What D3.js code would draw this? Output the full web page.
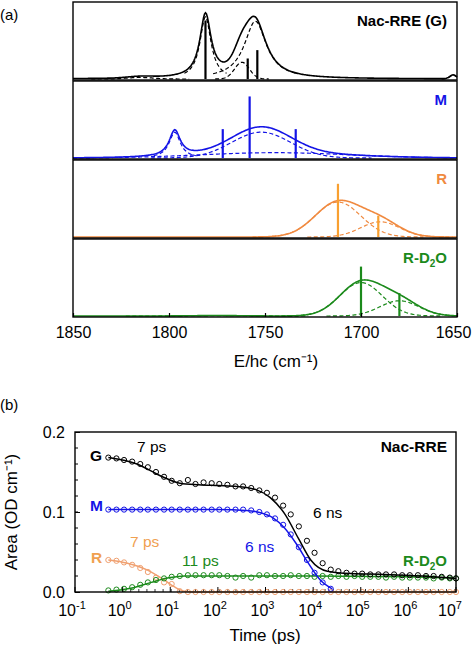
<!DOCTYPE html>
<html><head><meta charset="utf-8">
<script src="https://cdn.jsdelivr.net/npm/d3@7"></script>
<style>body{margin:0;background:#fff}text{font-family:"Liberation Sans",Arial,sans-serif}</style>
</head><body><div id="chart"></div>
<script>
// Band components per panel: [centre, fwhm, amplitude, shape]
var bandsG = [[1781, 7, 0.82, 'L'], [1762, 9, 0.22, 'G'], [1755, 14, 0.76, 'L'], [1815, 16, 0.02, 'G'], [1652, 4, 0.05, 'G']];
var bandsM = [[1797, 7, 0.34, 'L'], [1752, 36, 0.34, 'G'], [1745, 90, 0.07, 'G']];
var bandsR = [[1712, 28, 0.46, 'G'], [1690, 24, 0.20, 'G']];
var bandsD = [[1700, 26, 0.44, 'G'], [1680, 24, 0.20, 'G'], [1775, 30, 0.006, 'G']];
// Sticks: [position, height]
var sticksG = [[1781, 0.77], [1759, 0.27], [1754, 0.38]];
var sticksM = [[1772, 0.38], [1758, 0.81], [1734, 0.38]];
var sticksR = [[1712, 0.70], [1691, 0.28]];
var sticksD = [[1700, 0.65], [1680, 0.30]];
var wnTicks = [1850, 1800, 1750, 1700, 1650];

// Kinetics (log10 of time in ps)
var logT = [-0.3, -0.13, 0.03, 0.2, 0.37, 0.53, 0.7, 0.87, 1.03, 1.2, 1.37, 1.53, 1.7, 1.87, 2.03,
  2.2, 2.37, 2.53, 2.7, 2.87, 3.03, 3.2, 3.37, 3.53, 3.7, 3.87, 4.03, 4.2, 4.37, 4.53, 4.7, 4.87,
  5.03, 5.2, 5.37, 5.53, 5.7, 5.87, 6.03, 6.2, 6.37, 6.53, 6.7, 6.87, 7.0];
var areaG = [.168, .167, .165, .163, .160, .156, .150, .144, .139, .136, .140, .135, .137, .136, .135,
  .134, .132, .132, .130, .127, .124, .118, .108, .097, .082, .064, .049, .036, .028, .026, .024, .023,
  .023, .022, .022, .022, .022, .021, .021, .021, .020, .020, .019, .018, .017];
var areaM = [.103, .103, .103, .103, .103, .103, .103, .103, .103, .103, .103, .103, .103, .103, .103,
  .103, .103, .103, .102, .100, .097, .092, .084, .072, .056, .040, .024, .012, .004];
var areaR = [.040, .039, .037, .034, .030, .025, .018, .012, .010, .001, 0, 0, 0, 0, 0, 0, 0, 0, 0, 0,
  0, 0, 0, 0, 0, 0, 0, 0, 0, 0, 0, 0, 0, 0, 0, 0, 0, 0, 0, 0, 0, 0, 0, 0, 0];
var areaD = [.002, .003, .004, .006, .009, .012, .015, .017, .019, .020, .021, .021, .021, .021, .021,
  .020, .018, .020, .018, .021, .021, .020, .020, .021, .020, .020, .019, .020, .019, .020, .019, .020,
  .019, .019, .019, .018, .019, .018, .018, .018, .018, .017, .018, .017, .017];
var fitG = [.168, .160, .145, .136, .134, .133, .132, .128, .118, .098, .066, .040, .026, .023, .022, .020, .017];
var fitLogG = [-0.3, 0.3, 0.8, 1.2, 1.6, 2.0, 2.4, 2.8, 3.1, 3.4, 3.7, 3.95, 4.3, 4.8, 5.5, 6.3, 7.0];
var fitM = [.103, .103, .103, .102, .099, .093, .080, .060, .036, .015, .004];
var fitLogM = [-0.3, 1.0, 2.0, 2.6, 2.9, 3.15, 3.4, 3.65, 3.9, 4.15, 4.4];
var fitR = [.040, .036, .028, .016, .006, .001, 0, 0];
var fitLogR = [-0.3, 0.1, 0.5, 0.85, 1.1, 1.3, 1.5, 7.0];
var fitD = [.001, .005, .012, .018, .020, .020, .020, .019, .017];
var fitLogD = [-0.3, 0.2, 0.6, 1.0, 1.3, 2.0, 4.0, 6.0, 7.0];
var areaTicks = [0, 0.1, 0.2];

var W = 474, H = 645;
var FONT = '"Liberation Sans",Arial,sans-serif';
var FS = 16;
var svg = d3.select('#chart').append('svg').attr('width', W).attr('height', H);

// ---------- (a) spectra ----------
var x = d3.scaleLinear().domain([1850, 1650]).range([73, 457]);
var panels = [
  {bands: bandsG, sticks: sticksG, color: '#000', stick: '#000', top: 2, label: 'Nac-RRE (G)'},
  {bands: bandsM, sticks: sticksM, color: '#1414e6', stick: '#1414e6', top: 81, label: 'M'},
  {bands: bandsR, sticks: sticksR, color: '#f08a40', stick: '#f9a030', top: 160, label: 'R'},
  {bands: bandsD, sticks: sticksD, color: '#1b8a1b', stick: '#1b8a1b', top: 239, label: 'R-D2O'}
];
var ph = 78;
function band(b, w) {
  var d = (w - b[0]) / (b[1] / 2);
  return b[3] === 'L' ? b[2] / (1 + d * d) : b[2] * Math.exp(-Math.LN2 * d * d);
}
var grid = d3.range(1850, 1649.5, -0.5);
panels.forEach(function(p) {
  var y = d3.scaleLinear().domain([0, 1]).range([p.top + ph - 1, p.top + 1]);
  var line = d3.line().x(function(d) { return x(d[0]); }).y(function(d) { return y(d[1]); });
  var g = svg.append('g');
  // dashed components, only where the band is visible
  p.bands.forEach(function(b) {
    var pts = grid.filter(function(w) { return Math.abs(w - b[0]) < b[1] * 1.6; })
      .map(function(w) { return [w, band(b, w)]; });
    g.append('path').datum(pts)
      .attr('d', line).attr('fill', 'none').attr('stroke', p.color)
      .attr('stroke-width', 1.2).attr('stroke-dasharray', '4,2.5');
  });
  g.append('path').datum(grid.map(function(w) {
    return [w, d3.sum(p.bands, function(b) { return band(b, w); })];
  })).attr('d', line).attr('fill', 'none').attr('stroke', p.color).attr('stroke-width', 1.6);
  g.selectAll('.stick').data(p.sticks).enter().append('line')
    .attr('x1', function(d) { return x(d[0]); }).attr('x2', function(d) { return x(d[0]); })
    .attr('y1', y(0)).attr('y2', function(d) { return y(d[1]); })
    .attr('stroke', p.stick).attr('stroke-width', 2.2);
  g.append('rect').attr('x', 73).attr('y', p.top).attr('width', 384).attr('height', ph)
    .attr('fill', 'none').attr('stroke', '#000').attr('stroke-width', 1.4);
  var t = g.append('text').attr('x', 447).attr('y', p.top + 24).attr('text-anchor', 'end')
    .attr('font-weight', 'bold').attr('font-size', 15).attr('fill', p.color);
  if (p.label === 'R-D2O') {
    t.text('R-D');
    t.append('tspan').attr('font-size', 10).attr('dy', 4).text('2');
    t.append('tspan').attr('dy', -4).text('O');
  } else t.text(p.label);
});
var xAxis = svg.append('g').attr('transform', 'translate(0,317)')
  .call(d3.axisBottom(x).tickValues(wnTicks).tickSize(-4).tickPadding(10).tickFormat(d3.format('d')));
xAxis.select('.domain').remove();
xAxis.selectAll('line').attr('stroke-width', 1.2);
xAxis.selectAll('text').attr('font-size', FS).attr('fill', '#000').style('font-family', FONT)
  .attr('dx', function(d) { return d === 1650 ? -4 : 0; });
svg.append('text').attr('x', 276).attr('y', 367).attr('text-anchor', 'middle').attr('font-size', 17)
  .text('E/hc (cm\u207B\u00B9)');
svg.append('text').attr('x', 0).attr('y', 20).attr('font-size', 15).text('(a)');

// ---------- (b) kinetics ----------
var xl = d3.scaleLinear().domain([-1, 7]).range([75, 456]);
var yb = d3.scaleLinear().domain([0, 0.2]).range([592, 432]);
svg.append('text').attr('x', 0).attr('y', 410).attr('font-size', 15).text('(b)');
// small noise ticks near zero
d3.range(0, 7, 0.17).forEach(function(l) {
  svg.append('line').attr('x1', xl(l)).attr('x2', xl(l)).attr('y1', yb(0)).attr('y2', yb(0) - 3)
    .attr('stroke', '#000').attr('stroke-width', 0.8);
});
var series = [
  {pts: areaR, fit: fitR, fl: fitLogR, color: '#f0a070'},
  {pts: areaD, fit: fitD, fl: fitLogD, color: '#1b8a1b'},
  {pts: areaM, fit: fitM, fl: fitLogM, color: '#1414e6'},
  {pts: areaG, fit: fitG, fl: fitLogG, color: '#000'}
];
series.forEach(function(s) {
  var line = d3.line().curve(d3.curveMonotoneX)
    .x(function(d, i) { return xl(s.fl[i]); }).y(function(d) { return yb(d); });
  svg.append('path').datum(s.fit).attr('d', line).attr('fill', 'none')
    .attr('stroke', s.color).attr('stroke-width', 1.5);
  svg.selectAll(null).data(s.pts).enter().append('circle')
    .attr('cx', function(d, i) { return xl(logT[i]); }).attr('cy', function(d) { return yb(d); })
    .attr('r', 2.6).attr('fill', 'none').attr('stroke', s.color).attr('stroke-width', 1);
});
svg.append('rect').attr('x', 75).attr('y', 432).attr('width', 381).attr('height', 160)
  .attr('fill', 'none').attr('stroke', '#000').attr('stroke-width', 1.4);
var ya = svg.append('g').attr('transform', 'translate(75,0)')
  .call(d3.axisLeft(yb).tickValues(areaTicks).tickSize(-5).tickPadding(10).tickFormat(d3.format('.1f')));
ya.select('.domain').remove();
ya.selectAll('text').attr('font-size', FS).attr('fill', '#000').style('font-family', FONT);
d3.range(0.02, 0.2, 0.02).forEach(function(v) {
  svg.append('line').attr('x1', 75).attr('x2', 78).attr('y1', yb(v)).attr('y2', yb(v)).attr('stroke', '#000');
});
var decades = d3.range(-1, 8);
decades.forEach(function(l) {
  svg.append('line').attr('x1', xl(l)).attr('x2', xl(l)).attr('y1', 592).attr('y2', 587).attr('stroke', '#000');
  var t = svg.append('text').attr('x', xl(l) - 3 - (l === 7 ? 3 : 0)).attr('y', 616).attr('text-anchor', 'middle').attr('font-size', FS).text('10');
  t.append('tspan').attr('font-size', 11).attr('dy', -7).text(l);
});
svg.append('text').attr('x', 265).attr('y', 641).attr('text-anchor', 'middle').attr('font-size', 17).text('Time (ps)');
svg.append('text').attr('transform', 'translate(17,512) rotate(-90)').attr('text-anchor', 'middle')
  .attr('font-size', 17).text('Area (OD cm\u207B\u00B9)');
var notes = [
  ['7 ps', 137, 452, '#000', false], ['6 ns', 313, 518, '#000', false], ['6 ns', 245, 552, '#1414e6', false],
  ['7 ps', 130, 547, '#f0a050', false], ['11 ps', 182, 566, '#1b8a1b', false],
  ['G', 90, 461, '#000', true], ['M', 90, 511, '#1414e6', true], ['R', 91, 563, '#f0a050', true],
  ['Nac-RRE', 447, 452, '#000', true, 'end']
];
notes.forEach(function(n) {
  svg.append('text').attr('x', n[1]).attr('y', n[2]).attr('fill', n[3]).attr('font-size', 15.5)
    .attr('font-weight', n[4] ? 'bold' : 'normal').attr('text-anchor', n[5] || 'start').text(n[0]);
});
var rd = svg.append('text').attr('x', 447).attr('y', 566).attr('text-anchor', 'end').attr('fill', '#1b8a1b')
  .attr('font-size', 15).attr('font-weight', 'bold').text('R-D');
rd.append('tspan').attr('font-size', 10).attr('dy', 4).text('2');
rd.append('tspan').attr('dy', -4).text('O');
</script></body></html>
